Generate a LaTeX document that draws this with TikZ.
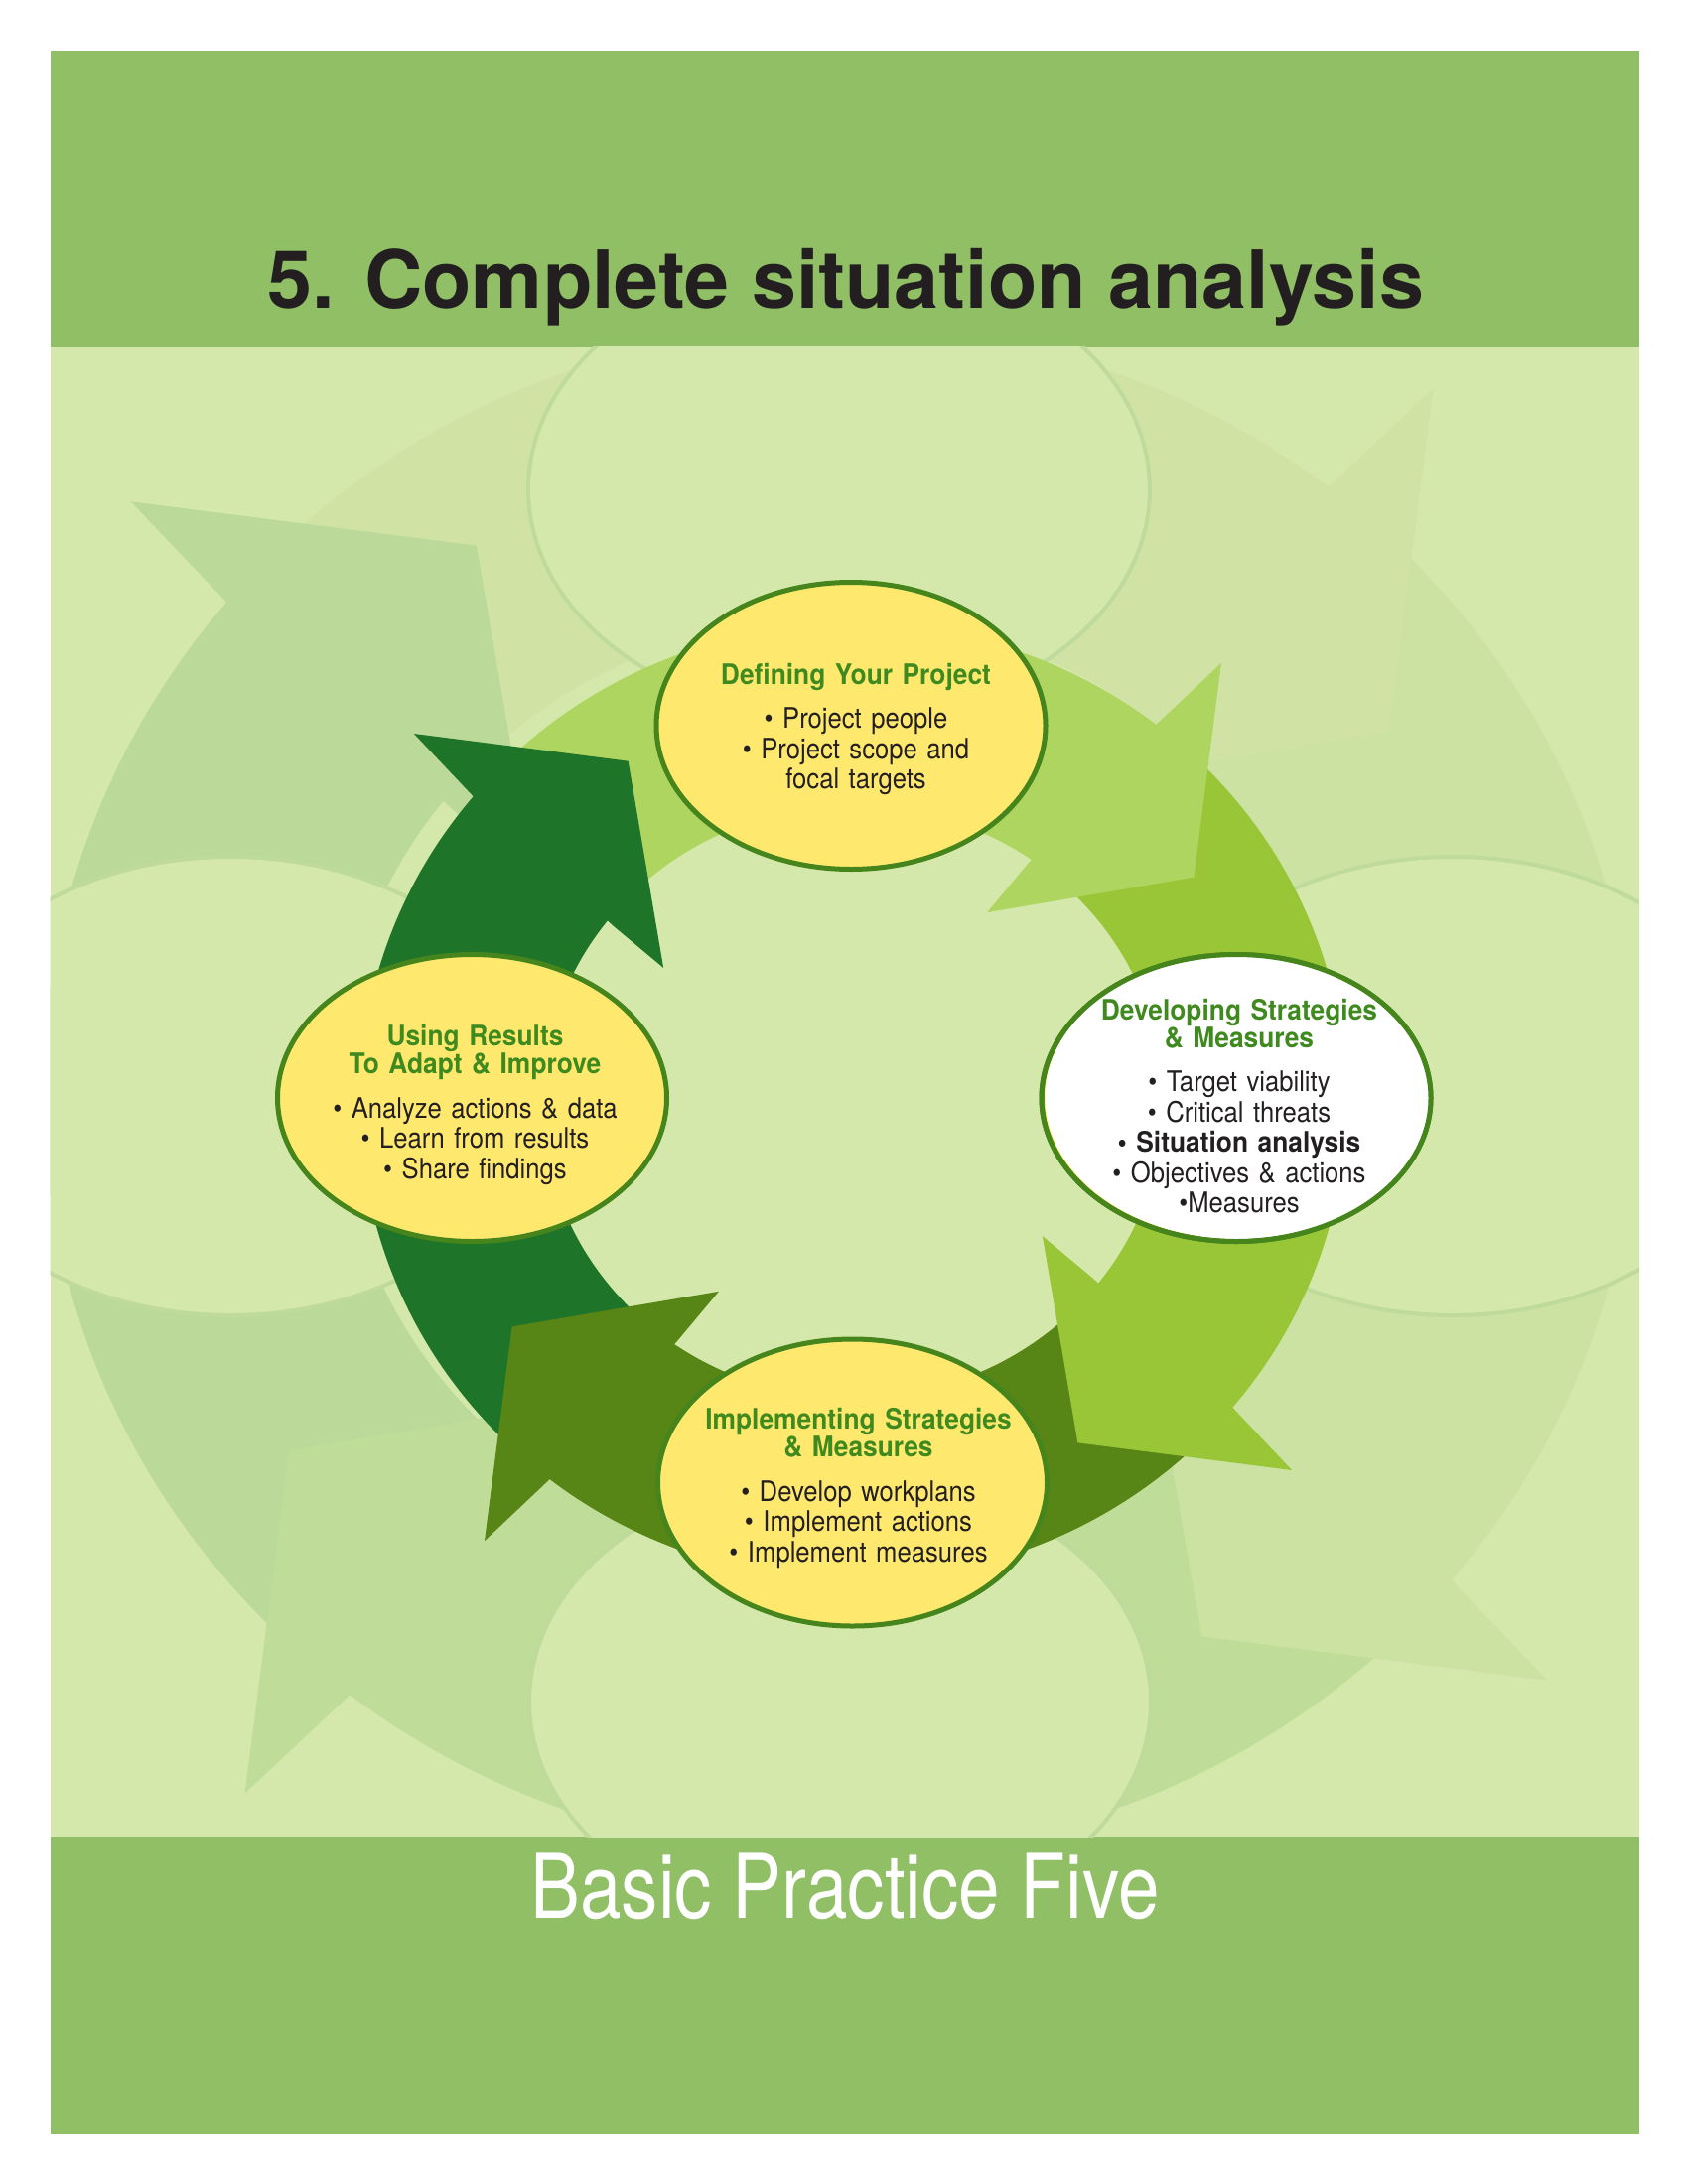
\documentclass[tikz,border=0pt]{standalone}
\usepackage{fontspec}
\setmainfont{TeX Gyre Heros}
\newfontfamily\bodyf[FakeStretch=0.90]{TeX Gyre Heros}
\newfontfamily\headf[FakeStretch=0.925]{TeX Gyre Heros Bold}
\newfontfamily\footf[FakeStretch=0.83]{TeX Gyre Heros}
\usetikzlibrary{shapes.geometric}
\definecolor{band}{HTML}{90BF66}
\definecolor{pale}{HTML}{D5E8AB}
\definecolor{ringa}{HTML}{AFD561}
\definecolor{ringb}{HTML}{99C636}
\definecolor{ringc}{HTML}{578516}
\definecolor{ringd}{HTML}{1E7428}
\definecolor{wma}{HTML}{D0E3A5}
\definecolor{wmb}{HTML}{CBE2A2}
\definecolor{wmc}{HTML}{BFDC99}
\definecolor{wmd}{HTML}{BBD998}
\definecolor{wmline}{HTML}{BFDB9B}
\definecolor{ovalfill}{HTML}{FEE86E}
\definecolor{ovalline}{HTML}{45851C}
\definecolor{headc}{HTML}{3F8A1F}
\definecolor{inkc}{HTML}{231F20}
\newcommand{\rtail}[2]{\fill[#2] (#1-137:493 and 478) arc[start angle=#1-137,end angle=#1-48,x radius=493,y radius=478] -- (#1-48:310 and 296) arc[start angle=#1-48,end angle=#1-137,x radius=310,y radius=296] -- cycle;}
\newcommand{\rhead}[2]{\fill[#2] (#1-51.2:485) -- (#1-50:572.6) -- (#1-33.4:408) -- (#1-54.7:232) -- (#1-53.7:297) -- cycle;}
\newcommand{\ringall}[4]{\rtail{0}{#1}\rtail{90}{#2}\rtail{180}{#3}\rtail{270}{#4}\rhead{0}{#1}\rhead{90}{#2}\rhead{180}{#3}\rhead{270}{#4}}
\tikzset{
 oval/.style={ellipse,draw=ovalline,line width=2.5pt,minimum width=196pt,minimum height=144.5pt,inner sep=0pt},
 oval text/.style={text width=190pt,align=center,inner sep=0pt,text=inkc,font=\bodyf\fontsize{14.25}{15.25}\selectfont},
 wm oval/.style={fill=pale,draw=wmline,line width=2pt},
}
\newcommand{\hd}[1]{{\headf\color{headc}\fontsize{14.25}{14}\selectfont #1\par}\vspace{7pt}}
\begin{document}
\begin{tikzpicture}[x=0.5pt,y=-0.5pt]
\useasboundingbox (0,0) rectangle (1700,2200);
\fill[white] (0,0) rectangle (1700,2200);
\fill[band] (50.5,50.5) rectangle (1651,349.6);
\fill[band] (50.5,1850) rectangle (1651,2150);
\fill[pale] (50.5,349.6) rectangle (1651,1850);
\begin{scope}
\clip (50.5,349.6) rectangle (1651,1850);
\begin{scope}[shift={(845,1099)},xscale=1.626,yscale=1.613]
\ringall{wma}{wmb}{wmc}{wmd}
\end{scope}
\foreach \ex/\ey in {845/493,1463/1094,846/1714,232/1094}
 \filldraw[wm oval] (\ex,\ey) ellipse [x radius=313,y radius=231];
\end{scope}
\begin{scope}[shift={(859,1110)},scale=1.008]
\ringall{ringa}{ringb}{ringc}{ringd}
\end{scope}
\node[oval,fill=ovalfill] (define) at (857,731) {};
\node[oval,fill=ovalfill] (strategy) at (1245,1106) {};
\fill[white] (1246.5,1105) ellipse [x radius=194,y radius=143];
\node[oval] at (strategy.center) {};
\node[oval,fill=ovalfill] (implement) at (858.5,1493.5) {};
\node[oval,fill=ovalfill] (adapt) at (475.5,1106) {};
\node[oval text] (definet) at (862,734.5) {\hd{Defining Your Project}• Project people\\• Project scope and\\focal targets};
\node[oval text] (strategyt) at (1248,1114) {\hd{Developing Strategies\\\& Measures}• Target viability\\• Critical threats\\{\headf • Situation analysis}\\• Objectives \& actions\\•Measures};
\node[oval text] (implementt) at (864.5,1499) {\hd{Implementing Strategies\\\& Measures}• Develop workplans\\• Implement actions\\• Implement measures};
\node[oval text] (adaptt) at (478.5,1113) {\hd{Using Results\\To Adapt \& Improve}• Analyze actions \& data\\• Learn from results\\• Share findings};
\node[text=inkc,font=\fontsize{40.4}{46}\selectfont\bfseries,anchor=base] (title) at (852,310) {5. Complete situation analysis};
\node[text=white,font=\footf\fontsize{45}{50}\selectfont,anchor=base] (foot) at (851,1932) {Basic Practice Five};
\end{tikzpicture}
\end{document}
